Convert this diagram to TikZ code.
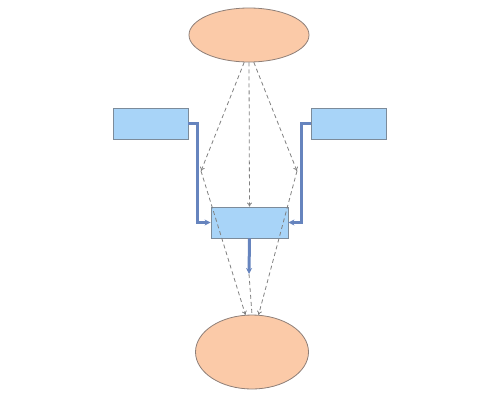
\documentclass[tikz,border=0pt]{standalone}
\definecolor{peach}{HTML}{FBCAA8}
\definecolor{peachline}{HTML}{8E7F78}
\definecolor{skyfill}{HTML}{A8D4F8}
\definecolor{skyline}{HTML}{7C8B9A}
\definecolor{steel}{HTML}{6684BE}
\usepackage{tikz}
\usetikzlibrary{shapes, arrows.meta, positioning}

\begin{document}
\begin{tikzpicture}[x=1pt, y=-1pt,
      oval/.style={ellipse, draw=peachline, fill=peach, line width=0.8pt,
                   inner sep=0pt},
      box/.style={rectangle, draw=skyline, fill=skyfill, line width=0.8pt,
                  inner sep=0pt, minimum height=31pt},
      thk/.style={-{Stealth[length=6pt, width=6pt]}, line width=3pt, steel},
      dsh/.style={-{To[length=4pt, width=5pt]}, line width=0.8pt, gray,
                  dash pattern=on 4pt off 3pt}
    ]
      \useasboundingbox (0,0) rectangle (500,400);

      \node[oval, minimum width=120pt, minimum height=54pt] (top) at (249,35) {};
      \node[oval, minimum width=113pt, minimum height=74pt] (bot) at (252,352) {};

      \node[box, minimum width=75pt] (lbox) at (150.5,123.5) {};
      \node[box, minimum width=75pt] (rbox) at (348.5,123.5) {};
      \node[box, minimum width=77pt] (mbox) at (249.5,222.5) {};

      \coordinate (lk) at (201,171);
      \coordinate (rk) at (297,171);
      \coordinate (mid) at (249,274);

      % thick feeds into the middle box
      \draw[thk] (lbox.east) -- ++(9,0) |- (mbox.west);
      \draw[thk] (rbox.west) -- ++(-9,0) |- (mbox.east);
      \draw[thk] (mbox.south) -- (mid);

      % dashed links between the ovals
      \draw[dsh] (top.-100) -- (lk);
      \draw[dsh] (top.-80) -- (rk);
      \draw[dsh] (top.south) -- (mbox.north);
      \draw[dsh] (lk) -- (bot.100);
      \draw[dsh] (rk) -- (bot.80);
      \draw[dsh, -] (mid) -- (bot.north);
    \end{tikzpicture}
\end{document}
